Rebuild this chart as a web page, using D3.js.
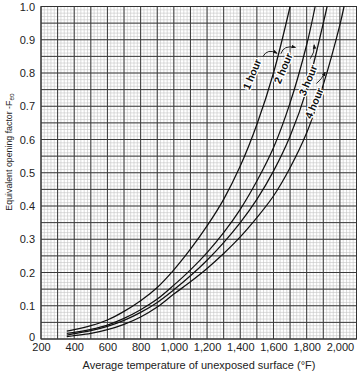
<!DOCTYPE html>
<html><head><meta charset="utf-8">
<script src="https://cdn.jsdelivr.net/npm/d3@7"></script>
<style>body{margin:0;background:#fff} svg{display:block}</style>
</head><body><svg id="c" width="360" height="373"></svg>
<script>
// ---- data ----
const xTickValues = [200,400,600,800,1000,1200,1400,1600,1800,2000];
const xTickLabels = ["200","400","600","800","1,000","1,200","1,400","1,600","1,800","2,000"];
const yTickValues = [0,0.1,0.2,0.3,0.4,0.5,0.6,0.7,0.8,0.9,1.0];
const yTickLabels = ["0","0.1","0.2","0.3","0.4","0.5","0.6","0.7","0.8","0.9","1.0"];
const seriesNames = ["1 hour","2 hour","3 hour","4 hour"];

const temp1h   = [355,400,500,600,700,800,900,1000,1100,1200,1300,1400,1500,1600,1700];
const factor1h = [0.024,0.028,0.040,0.057,0.083,0.115,0.155,0.208,0.27,0.34,0.42,0.52,0.645,0.80,1.0];
const temp2h   = [355,400,500,600,700,800,900,1000,1100,1200,1300,1400,1500,1600,1700,1800,1851];
const factor2h = [0.017,0.020,0.029,0.042,0.062,0.088,0.12,0.162,0.208,0.26,0.32,0.39,0.475,0.575,0.71,0.885,1.0];
const temp3h   = [355,400,500,600,700,800,900,1000,1100,1200,1300,1400,1500,1600,1700,1800,1900,1923];
const factor3h = [0.012,0.016,0.025,0.038,0.056,0.08,0.11,0.148,0.19,0.237,0.29,0.35,0.42,0.505,0.61,0.75,0.95,1.0];
const temp4h   = [355,400,500,600,700,800,900,1000,1100,1200,1300,1400,1500,1600,1700,1800,1900,2000,2025];
const factor4h = [0.007,0.010,0.017,0.028,0.044,0.066,0.096,0.135,0.172,0.212,0.257,0.307,0.365,0.43,0.515,0.62,0.765,0.945,1.0];

// label anchors (data units) and arrows (data units)
const labelTemp   = [1471,1658,1808,1845];
const labelFactor = [0.796,0.814,0.778,0.709];
const arrowFrom = [[1537,0.85],[1645,0.858],[1822,0.843],[1858,0.768]];
const arrowCtrl = [[1565,0.875],[1660,0.885],[1850,0.862],[1890,0.78]];
const arrowTo   = [[1622,0.859],[1733,0.877],[1845,0.885],[1912,0.803]];

// ---- chart ----
const svg = d3.select("#c");
const x = d3.scaleLinear().domain([200,2100]).range([41,356.5]);
const y = d3.scaleLinear().domain([0,1]).range([339,6.5]);
const series = [
  {name: seriesNames[0], t: temp1h, f: factor1h},
  {name: seriesNames[1], t: temp2h, f: factor2h},
  {name: seriesNames[2], t: temp3h, f: factor3h},
  {name: seriesNames[3], t: temp4h, f: factor4h}
];

const grid = svg.append("g");
// minor grid
grid.selectAll(".mx").data(d3.range(200,2100.01,20)).join("line")
  .attr("x1",d=>x(d)).attr("x2",d=>x(d)).attr("y1",y(0)).attr("y2",y(1))
  .attr("stroke","#c4c4c4").attr("stroke-width",0.6);
grid.selectAll(".my").data(d3.range(0,100.01,1).map(v=>v/100)).join("line")
  .attr("y1",d=>y(d)).attr("y2",d=>y(d)).attr("x1",x(200)).attr("x2",x(2100))
  .attr("stroke","#c4c4c4").attr("stroke-width",0.6);
// major grid
grid.selectAll(".Mx").data(d3.range(200,2100.01,100)).join("line")
  .attr("x1",d=>x(d)).attr("x2",d=>x(d)).attr("y1",y(0)).attr("y2",y(1))
  .attr("stroke","#3a3a3a").attr("stroke-width",1);
grid.selectAll(".My").data(d3.range(0,20.01,1).map(v=>v/20)).join("line")
  .attr("y1",d=>y(d)).attr("y2",d=>y(d)).attr("x1",x(200)).attr("x2",x(2100))
  .attr("stroke","#3a3a3a").attr("stroke-width",1);
grid.append("rect").attr("x",x(200)).attr("y",y(1)).attr("width",x(2100)-x(200)).attr("height",y(0)-y(1))
  .attr("fill","none").attr("stroke","#333").attr("stroke-width",1);

// curves
const line = d3.line().x(d=>x(d[0])).y(d=>y(d[1])).curve(d3.curveCatmullRom);
svg.append("g").selectAll("path").data(series).join("path")
  .attr("d",s=>line(s.t.map((t,i)=>[t,s.f[i]])))
  .attr("fill","none").attr("stroke","#111").attr("stroke-width",1.25);

// axes
const font = "Liberation Sans, Arial, Helvetica, sans-serif";
const ax = svg.append("g").attr("transform",`translate(0,${y(0)})`)
  .call(d3.axisBottom(x).tickValues(xTickValues).tickFormat((d,i)=>xTickLabels[i]).tickSize(0).tickPadding(4));
const ay = svg.append("g").attr("transform",`translate(${x(200)},0)`)
  .call(d3.axisLeft(y).tickValues(yTickValues).tickFormat((d,i)=>yTickLabels[i]).tickSize(0).tickPadding(6));
[ax,ay].forEach(a=>{a.select(".domain").remove();
  a.selectAll("text").attr("font-family",font).attr("font-size",11).attr("fill","#222");});
ay.selectAll(".tick").filter(d=>d===0).select("text").attr("y",-2.5);

svg.append("text").attr("x",199).attr("y",369).attr("text-anchor","middle")
  .attr("font-family",font).attr("font-size",11).attr("fill","#222")
  .text("Average temperature of unexposed surface (°F)");
const yt = svg.append("text").attr("transform","translate(12,152) rotate(-90)").attr("text-anchor","middle")
  .attr("font-family",font).attr("font-size",8.8).attr("fill","#222");
yt.append("tspan").text("Equivalent opening factor -F");
yt.append("tspan").attr("font-size",6.5).attr("dy",2).text("eo");

// labels
svg.append("defs").append("marker").attr("id","ah").attr("viewBox","0 0 10 10").attr("refX",9).attr("refY",5)
  .attr("markerWidth",5).attr("markerHeight",5).attr("orient","auto")
  .append("path").attr("d","M0,1 L10,5 L0,9 Z").attr("fill","#111");
const lab = svg.append("g");
seriesNames.forEach((n,i)=>{
  lab.append("text").attr("transform",`translate(${x(labelTemp[i])},${y(labelFactor[i])}) rotate(-67)`)
    .attr("text-anchor","middle").attr("dy","0.35em")
    .attr("font-family",font).attr("font-size",10.5).attr("font-weight","bold").attr("fill","#111")
    .attr("stroke","#fff").attr("stroke-width",2.5).attr("paint-order","stroke")
    .text(n);
  const p = d3.path();
  p.moveTo(x(arrowFrom[i][0]),y(arrowFrom[i][1]));
  p.quadraticCurveTo(x(arrowCtrl[i][0]),y(arrowCtrl[i][1]),x(arrowTo[i][0]),y(arrowTo[i][1]));
  lab.append("path").attr("d",p.toString()).attr("fill","none").attr("stroke","#111").attr("stroke-width",0.9)
    .attr("marker-end","url(#ah)");
});
</script></body></html>
